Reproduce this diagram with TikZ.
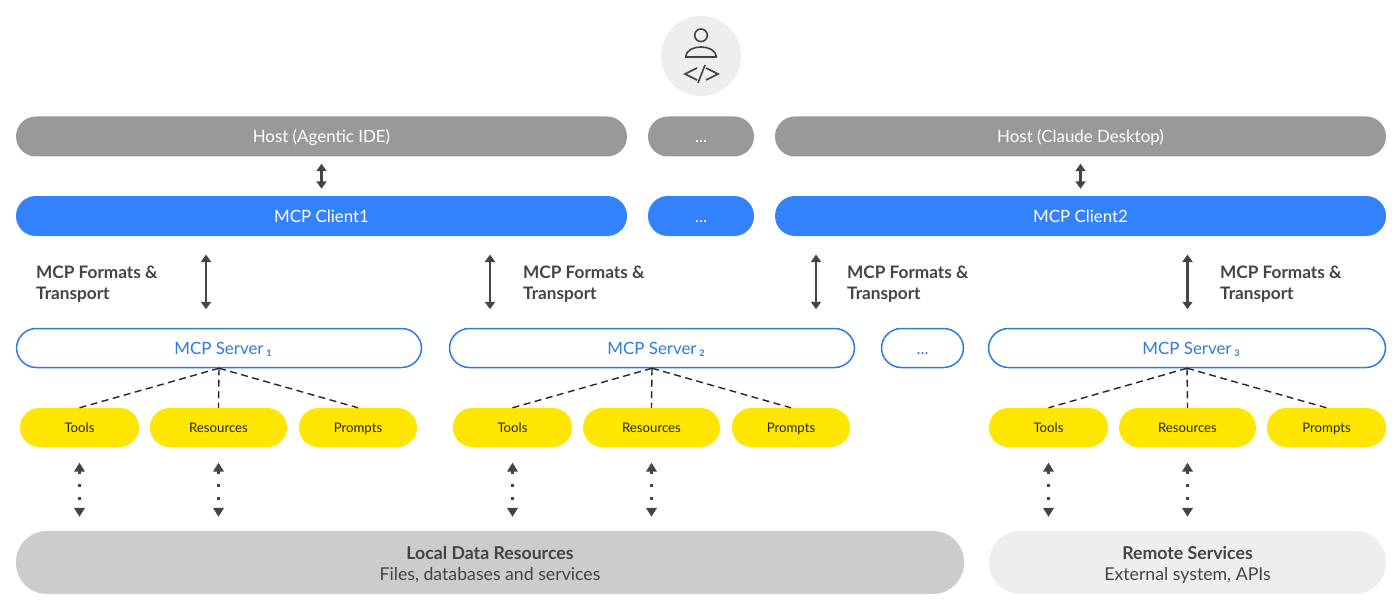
\documentclass[tikz,border=0pt]{standalone}
\usepackage{fontspec}
\setmainfont{Lato}
\usetikzlibrary{arrows.meta}
\definecolor{hostgray}{HTML}{999999}
\definecolor{clientblue}{HTML}{3381FB}
\definecolor{serverblue}{HTML}{2F7AE0}
\definecolor{toolyellow}{HTML}{FFE600}
\definecolor{inkdark}{HTML}{444444}
\definecolor{localgray}{HTML}{CCCCCC}
\definecolor{paleGray}{HTML}{EEEEEE}
\tikzset{
  x=1pt,y=-1pt,
  pill/.style={inner sep=0pt,minimum height=40pt,rounded corners=19.9pt,align=center,text height=15pt,text depth=3pt},
  hostbox/.style={pill,fill=hostgray,text=white,font=\fontsize{16.9}{20}\selectfont},
  clientbox/.style={pill,fill=clientblue,text=white,font=\fontsize{16.9}{20}\selectfont},
  serverbox/.style={pill,draw=serverblue,line width=1.5pt,fill=white,text=serverblue,minimum height=39pt,font=\fontsize{16.9}{20}\selectfont},
  toolbox/.style={pill,fill=toolyellow,text=black!85,minimum height=39pt,rounded corners=19.4pt,text height=13pt,text depth=3pt,font=\fontsize{13.2}{15}\selectfont},
  basebox/.style={inner sep=0pt,minimum height=63pt,rounded corners=31pt,align=center,text=inkdark,font=\fontsize{17.7}{21}\selectfont},
  formatlabel/.style={anchor=west,inner sep=0pt,align=left,text=inkdark,font=\fontsize{17.2}{21}\selectfont\bfseries},
  biarrow/.style={draw=inkdark,line width=2.6pt,{Triangle[width=10pt,length=7.5pt]}-{Triangle[width=10pt,length=7.5pt]}},
  dashlink/.style={draw=black!85,line width=1.4pt,dash pattern=on 7pt off 4.5pt},
  dotarrow/.style={draw=inkdark,line width=3.2pt,dash pattern=on 3pt off 10pt,{Triangle[width=10.5pt,length=9pt]}-{Triangle[width=10.5pt,length=9pt]}},
  iconline/.style={draw=inkdark,line width=1.6pt}
}
\newcommand{\srv}[1]{\hspace*{8pt}MCP Server\,{\raisebox{-2.5pt}{\fontsize{9}{9}\selectfont\bfseries #1}}}
\begin{document}
\begin{tikzpicture}
\useasboundingbox (0,0) rectangle (1400,615);
% user icon
\fill[paleGray] (701,56) circle (40);
\draw[iconline] (701,35.3) circle (6.3);
\draw[iconline,line join=round] (685.5,57) .. controls (686,50) and (694,47) .. (701,47) .. controls (708,47) and (716,50) .. (716.5,57) -- cycle;
\draw[iconline] (697,68) -- (685,74) -- (697,80);
\draw[iconline] (705,65) -- (698,83);
\draw[iconline] (706,68) -- (718,74) -- (706,80);
% hosts
\node[hostbox,minimum width=611pt] (hostA) at (321.5,136.5) {Host (Agentic IDE)};
\node[hostbox,minimum width=106pt] (hostM) at (701,136.5) {...};
\node[hostbox,minimum width=611pt] (hostB) at (1080.5,136.5) {Host (Claude Desktop)};
% clients
\node[clientbox,minimum width=611pt] (clientA) at (321.5,216) {MCP Client1};
\node[clientbox,minimum width=106pt] (clientM) at (701,216) {...};
\node[clientbox,minimum width=611pt] (clientB) at (1080.5,216) {MCP Client2};
% servers
\node[serverbox,minimum width=405pt] (srvA) at (219,348) {\srv{1}};
\node[serverbox,minimum width=405pt] (srvB) at (652,348) {\srv{2}};
\node[serverbox,minimum width=82pt] (srvM) at (922.5,348) {...};
\node[serverbox,minimum width=397pt] (srvC) at (1187,348) {\srv{3}};
% tools
\node[toolbox,minimum width=119pt] (toolA) at (79.5,427.5) {Tools};
\node[toolbox,minimum width=137pt] (resA) at (218.5,427.5) {Resources};
\node[toolbox,minimum width=118pt] (prmA) at (358,427.5) {Prompts};
\node[toolbox,minimum width=119pt] (toolB) at (512.5,427.5) {Tools};
\node[toolbox,minimum width=137pt] (resB) at (651.5,427.5) {Resources};
\node[toolbox,minimum width=118pt] (prmB) at (791,427.5) {Prompts};
\node[toolbox,minimum width=119pt] (toolC) at (1048.5,427.5) {Tools};
\node[toolbox,minimum width=137pt] (resC) at (1187.5,427.5) {Resources};
\node[toolbox,minimum width=119pt] (prmC) at (1326.5,427.5) {Prompts};
% bottom
\node[basebox,fill=localgray,minimum width=948pt] (localD) at (490,562.5) {\rule{0pt}{18pt}\textbf{Local Data Resources}\\Files, databases and services};
\node[basebox,fill=paleGray,minimum width=397pt] (remoteS) at (1187.5,562.5) {\rule{0pt}{18pt}\textbf{Remote Services}\\External system, APIs};
% labels
\node[formatlabel] (lblA) at (36,284.5) {MCP Formats \&\\Transport};
\node[formatlabel] (lblB) at (523,284.5) {MCP Formats \&\\Transport};
\node[formatlabel] (lblC) at (847,284.5) {MCP Formats \&\\Transport};
\node[formatlabel] (lblD) at (1220,284.5) {MCP Formats \&\\Transport};
% host-client
\draw[biarrow,shorten >=7pt,shorten <=7pt] (hostA.south) -- (clientA.north);
\draw[biarrow,shorten >=7pt,shorten <=7pt] (hostB.south) -- (clientB.north);
% client-server
\coordinate (fa) at (206,236);
\coordinate (fb) at (490,236);
\coordinate (fc) at (816,236);
\coordinate (fd) at (1187.5,236);
\draw[biarrow,shorten >=18.5pt,shorten <=18.5pt] (fa) -- (fa |- srvA.north);
\draw[biarrow,shorten >=18.5pt,shorten <=18.5pt] (fb) -- (fb |- srvB.north);
\draw[biarrow,shorten >=18.5pt,shorten <=18.5pt] (fc) -- (fc |- srvB.north);
\draw[biarrow,shorten >=18.5pt,shorten <=18.5pt] (fd) -- (fd |- srvC.north);
% server-tool
\foreach \s/\a/\b/\c in {srvA/toolA/resA/prmA,srvB/toolB/resB/prmB,srvC/toolC/resC/prmC}{
  \draw[dashlink] (\s.south) -- (\a.north);
  \draw[dashlink] (\s.south) -- (\b.north);
  \draw[dashlink] (\s.south) -- (\c.north);
}
% tool-data
\draw[dotarrow,shorten >=14pt,shorten <=15.5pt] (toolA.south) -- (toolA.south |- localD.north);
\draw[dotarrow,shorten >=14pt,shorten <=15.5pt] (resA.south) -- (resA.south |- localD.north);
\draw[dotarrow,shorten >=14pt,shorten <=15.5pt] (toolB.south) -- (toolB.south |- localD.north);
\draw[dotarrow,shorten >=14pt,shorten <=15.5pt] (resB.south) -- (resB.south |- localD.north);
\draw[dotarrow,shorten >=14pt,shorten <=15.5pt] (toolC.south) -- (toolC.south |- remoteS.north);
\draw[dotarrow,shorten >=14pt,shorten <=15.5pt] (resC.south) -- (resC.south |- remoteS.north);
\end{tikzpicture}
\end{document}
